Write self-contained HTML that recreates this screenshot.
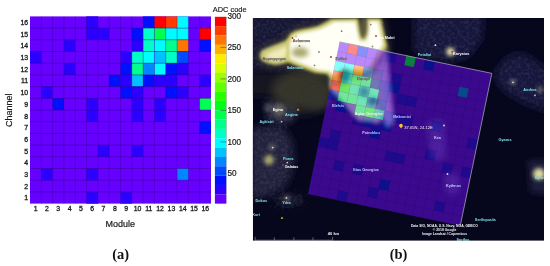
<!DOCTYPE html>
<html><head><meta charset="utf-8"><style>
html,body{margin:0;padding:0;background:#fff;}
svg{display:block;}
text{font-family:"Liberation Sans",Arial,sans-serif;}
.tk{font-size:6.9px;fill:#1a1a1a;stroke:#1a1a1a;stroke-width:0.3px;}
.lab{font-size:9px;fill:#1a1a1a;stroke:#1a1a1a;stroke-width:0.2px;}
.cb{font-size:8.2px;fill:#1a1a1a;stroke:#1a1a1a;stroke-width:0.2px;}
.adc{font-size:7.4px;fill:#1a1a1a;stroke:#1a1a1a;stroke-width:0.18px;}
.sub{font-family:"Liberation Serif",serif;font-weight:bold;font-size:14.5px;fill:#111;}
.sl{font-size:3.8px;font-weight:bold;}
.co{font-size:4.1px;}
.dk{fill:#3a3a40;stroke:#8a8a80;stroke-width:0.25px;}
.at{font-size:3.4px;fill:#f4f4f4;font-weight:bold;}
</style></head><body>
<svg width="550" height="266" viewBox="0 0 550 266">
<defs>
<filter id="b2" x="-50%" y="-50%" width="200%" height="200%"><feGaussianBlur stdDeviation="2"/></filter>
<filter id="b25" x="-50%" y="-50%" width="200%" height="200%"><feGaussianBlur stdDeviation="2.5"/></filter>
<filter id="glow" x="-10%" y="-10%" width="120%" height="120%">
 <feMorphology in="SourceAlpha" operator="erode" radius="3" result="er"/>
 <feGaussianBlur in="er" stdDeviation="1.4" result="erb"/>
 <feFlood flood-color="#fffff6"/>
 <feComposite in2="erb" operator="in" result="core"/>
 <feGaussianBlur in="SourceAlpha" stdDeviation="1.7" result="hb"/>
 <feFlood flood-color="#d2cf6a"/>
 <feComposite in2="hb" operator="in" result="halo"/>
 <feMerge><feMergeNode in="halo"/><feMergeNode in="core"/></feMerge>
</filter>
<filter id="glowL" x="-20%" y="-20%" width="140%" height="140%">
 <feMorphology in="SourceAlpha" operator="erode" radius="3.5" result="er"/>
 <feGaussianBlur in="er" stdDeviation="2" result="erb"/>
 <feFlood flood-color="#f0edbc"/>
 <feComposite in2="erb" operator="in" result="core"/>
 <feGaussianBlur in="SourceAlpha" stdDeviation="1.8" result="hb"/>
 <feFlood flood-color="#c8c470"/>
 <feComposite in2="hb" operator="in" result="halo"/>
 <feMerge><feMergeNode in="halo"/><feMergeNode in="core"/></feMerge>
</filter>
<filter id="noise" filterUnits="userSpaceOnUse" x="250" y="15" width="300" height="230">
 <feTurbulence type="fractalNoise" baseFrequency="0.33" numOctaves="2" seed="7"/>
 <feColorMatrix type="matrix" values="0 0 0 0 0.42  0 0 0 0 0.42  0 0 0 0 0.62  0 0 0 3.2 -1.35"/>
</filter>
<filter id="b3" x="-50%" y="-50%" width="200%" height="200%"><feGaussianBlur stdDeviation="3"/></filter>
<filter id="b4" x="-50%" y="-50%" width="200%" height="200%"><feGaussianBlur stdDeviation="4.5"/></filter>
<filter id="b6" x="-50%" y="-50%" width="200%" height="200%"><feGaussianBlur stdDeviation="7"/></filter>
<clipPath id="satclip"><rect x="252.8" y="17.9" width="291.2" height="222.9"/></clipPath>
</defs>
<rect x="30.0" y="16.4" width="181.0" height="187.2" fill="#6600ff"/><rect x="86.56" y="16.40" width="11.36" height="11.75" fill="#2b00ff"/><rect x="143.12" y="16.40" width="11.36" height="11.75" fill="#0010ff"/><rect x="154.44" y="16.40" width="11.36" height="11.75" fill="#ff0000"/><rect x="165.75" y="16.40" width="11.36" height="11.75" fill="#ff3b00"/><rect x="177.06" y="16.40" width="11.36" height="11.75" fill="#00fcff"/><rect x="86.56" y="28.10" width="11.36" height="11.75" fill="#2b00ff"/><rect x="97.88" y="28.10" width="11.36" height="11.75" fill="#2b00ff"/><rect x="131.81" y="28.10" width="11.36" height="11.75" fill="#0010ff"/><rect x="143.12" y="28.10" width="11.36" height="11.75" fill="#00ffc7"/><rect x="154.44" y="28.10" width="11.36" height="11.75" fill="#00ff51"/><rect x="165.75" y="28.10" width="11.36" height="11.75" fill="#00fcff"/><rect x="177.06" y="28.10" width="11.36" height="11.75" fill="#00fcff"/><rect x="199.69" y="28.10" width="11.36" height="11.75" fill="#ff0000"/><rect x="63.94" y="39.80" width="11.36" height="11.75" fill="#2b00ff"/><rect x="131.81" y="39.80" width="11.36" height="11.75" fill="#2b00ff"/><rect x="143.12" y="39.80" width="11.36" height="11.75" fill="#00ffc7"/><rect x="154.44" y="39.80" width="11.36" height="11.75" fill="#00fcff"/><rect x="165.75" y="39.80" width="11.36" height="11.75" fill="#00ff8c"/><rect x="177.06" y="39.80" width="11.36" height="11.75" fill="#ff7600"/><rect x="199.69" y="39.80" width="11.36" height="11.75" fill="#0010ff"/><rect x="30.00" y="51.50" width="11.36" height="11.75" fill="#2b00ff"/><rect x="120.50" y="51.50" width="11.36" height="11.75" fill="#2b00ff"/><rect x="131.81" y="51.50" width="11.36" height="11.75" fill="#00ffc7"/><rect x="143.12" y="51.50" width="11.36" height="11.75" fill="#00fcff"/><rect x="154.44" y="51.50" width="11.36" height="11.75" fill="#00c1ff"/><rect x="165.75" y="51.50" width="11.36" height="11.75" fill="#00ffc7"/><rect x="177.06" y="51.50" width="11.36" height="11.75" fill="#004bff"/><rect x="63.94" y="63.20" width="11.36" height="11.75" fill="#2b00ff"/><rect x="120.50" y="63.20" width="11.36" height="11.75" fill="#0010ff"/><rect x="131.81" y="63.20" width="11.36" height="11.75" fill="#00ff8c"/><rect x="143.12" y="63.20" width="11.36" height="11.75" fill="#0086ff"/><rect x="154.44" y="63.20" width="11.36" height="11.75" fill="#00fcff"/><rect x="165.75" y="63.20" width="11.36" height="11.75" fill="#0010ff"/><rect x="177.06" y="63.20" width="11.36" height="11.75" fill="#2b00ff"/><rect x="109.19" y="74.90" width="11.36" height="11.75" fill="#0010ff"/><rect x="120.50" y="74.90" width="11.36" height="11.75" fill="#2b00ff"/><rect x="131.81" y="74.90" width="11.36" height="11.75" fill="#00c1ff"/><rect x="143.12" y="74.90" width="11.36" height="11.75" fill="#0010ff"/><rect x="154.44" y="74.90" width="11.36" height="11.75" fill="#2b00ff"/><rect x="165.75" y="74.90" width="11.36" height="11.75" fill="#2b00ff"/><rect x="199.69" y="74.90" width="11.36" height="11.75" fill="#2b00ff"/><rect x="41.31" y="86.60" width="11.36" height="11.75" fill="#2b00ff"/><rect x="120.50" y="86.60" width="11.36" height="11.75" fill="#0010ff"/><rect x="131.81" y="86.60" width="11.36" height="11.75" fill="#2b00ff"/><rect x="165.75" y="86.60" width="11.36" height="11.75" fill="#0010ff"/><rect x="177.06" y="86.60" width="11.36" height="11.75" fill="#2b00ff"/><rect x="52.62" y="98.30" width="11.36" height="11.75" fill="#0010ff"/><rect x="86.56" y="98.30" width="11.36" height="11.75" fill="#2b00ff"/><rect x="131.81" y="98.30" width="11.36" height="11.75" fill="#2b00ff"/><rect x="154.44" y="98.30" width="11.36" height="11.75" fill="#2b00ff"/><rect x="199.69" y="98.30" width="11.36" height="11.75" fill="#00ff51"/><rect x="86.56" y="110.00" width="11.36" height="11.75" fill="#2b00ff"/><rect x="131.81" y="110.00" width="11.36" height="11.75" fill="#2b00ff"/><rect x="154.44" y="110.00" width="11.36" height="11.75" fill="#2b00ff"/><rect x="199.69" y="121.70" width="11.36" height="11.75" fill="#0010ff"/><rect x="97.88" y="145.10" width="11.36" height="11.75" fill="#2b00ff"/><rect x="131.81" y="145.10" width="11.36" height="11.75" fill="#2b00ff"/><rect x="41.31" y="168.50" width="11.36" height="11.75" fill="#2b00ff"/><rect x="86.56" y="168.50" width="11.36" height="11.75" fill="#2b00ff"/><rect x="177.06" y="168.50" width="11.36" height="11.75" fill="#0086ff"/><rect x="86.56" y="191.90" width="11.36" height="11.75" fill="#2b00ff"/><rect x="120.50" y="191.90" width="11.36" height="11.75" fill="#2b00ff"/><path d="M41.31 16.4V203.6 M52.62 16.4V203.6 M63.94 16.4V203.6 M75.25 16.4V203.6 M86.56 16.4V203.6 M97.88 16.4V203.6 M109.19 16.4V203.6 M120.50 16.4V203.6 M131.81 16.4V203.6 M143.12 16.4V203.6 M154.44 16.4V203.6 M165.75 16.4V203.6 M177.06 16.4V203.6 M188.38 16.4V203.6 M199.69 16.4V203.6" stroke="#30007a" stroke-opacity="0.38" stroke-width="0.8" fill="none"/><path d="M30.0 28.10H211.0 M30.0 39.80H211.0 M30.0 51.50H211.0 M30.0 63.20H211.0 M30.0 74.90H211.0 M30.0 86.60H211.0 M30.0 98.30H211.0 M30.0 110.00H211.0 M30.0 121.70H211.0 M30.0 133.40H211.0 M30.0 145.10H211.0 M30.0 156.80H211.0 M30.0 168.50H211.0 M30.0 180.20H211.0 M30.0 191.90H211.0" stroke="#30007a" stroke-opacity="0.5" stroke-width="0.8" fill="none"/><text x="28.2" y="200.45" text-anchor="end" class="tk">1</text><text x="28.2" y="188.75" text-anchor="end" class="tk">2</text><text x="28.2" y="177.05" text-anchor="end" class="tk">3</text><text x="28.2" y="165.35" text-anchor="end" class="tk">4</text><text x="28.2" y="153.65" text-anchor="end" class="tk">5</text><text x="28.2" y="141.95" text-anchor="end" class="tk">6</text><text x="28.2" y="130.25" text-anchor="end" class="tk">7</text><text x="28.2" y="118.55" text-anchor="end" class="tk">8</text><text x="28.2" y="106.85" text-anchor="end" class="tk">9</text><text x="28.2" y="95.15" text-anchor="end" class="tk">10</text><text x="28.2" y="83.45" text-anchor="end" class="tk">11</text><text x="28.2" y="71.75" text-anchor="end" class="tk">12</text><text x="28.2" y="60.05" text-anchor="end" class="tk">13</text><text x="28.2" y="48.35" text-anchor="end" class="tk">14</text><text x="28.2" y="36.65" text-anchor="end" class="tk">15</text><text x="28.2" y="24.95" text-anchor="end" class="tk">16</text><text x="35.66" y="211.2" text-anchor="middle" class="tk">1</text><text x="46.97" y="211.2" text-anchor="middle" class="tk">2</text><text x="58.28" y="211.2" text-anchor="middle" class="tk">3</text><text x="69.59" y="211.2" text-anchor="middle" class="tk">4</text><text x="80.91" y="211.2" text-anchor="middle" class="tk">5</text><text x="92.22" y="211.2" text-anchor="middle" class="tk">6</text><text x="103.53" y="211.2" text-anchor="middle" class="tk">7</text><text x="114.84" y="211.2" text-anchor="middle" class="tk">8</text><text x="126.16" y="211.2" text-anchor="middle" class="tk">9</text><text x="137.47" y="211.2" text-anchor="middle" class="tk">10</text><text x="148.78" y="211.2" text-anchor="middle" class="tk">11</text><text x="160.09" y="211.2" text-anchor="middle" class="tk">12</text><text x="171.41" y="211.2" text-anchor="middle" class="tk">13</text><text x="182.72" y="211.2" text-anchor="middle" class="tk">14</text><text x="194.03" y="211.2" text-anchor="middle" class="tk">15</text><text x="205.34" y="211.2" text-anchor="middle" class="tk">16</text><text x="120.3" y="227.3" text-anchor="middle" class="lab">Module</text><text transform="translate(11.6 110.3) rotate(-90)" text-anchor="middle" class="lab">Channel</text><rect x="214.9" y="16.80" width="11.40" height="9.39" fill="#ff0000"/><rect x="214.9" y="26.14" width="11.40" height="9.39" fill="#ff3b00"/><rect x="214.9" y="35.48" width="11.40" height="9.39" fill="#ff7600"/><rect x="214.9" y="44.82" width="11.40" height="9.39" fill="#ffb100"/><rect x="214.9" y="54.16" width="11.40" height="9.39" fill="#ffec00"/><rect x="214.9" y="63.50" width="11.40" height="9.39" fill="#d7ff00"/><rect x="214.9" y="72.84" width="11.40" height="9.39" fill="#9cff00"/><rect x="214.9" y="82.18" width="11.40" height="9.39" fill="#61ff00"/><rect x="214.9" y="91.52" width="11.40" height="9.39" fill="#26ff00"/><rect x="214.9" y="100.86" width="11.40" height="9.39" fill="#00ff15"/><rect x="214.9" y="110.20" width="11.40" height="9.39" fill="#00ff51"/><rect x="214.9" y="119.54" width="11.40" height="9.39" fill="#00ff8c"/><rect x="214.9" y="128.88" width="11.40" height="9.39" fill="#00ffc7"/><rect x="214.9" y="138.22" width="11.40" height="9.39" fill="#00fcff"/><rect x="214.9" y="147.56" width="11.40" height="9.39" fill="#00c1ff"/><rect x="214.9" y="156.90" width="11.40" height="9.39" fill="#0086ff"/><rect x="214.9" y="166.24" width="11.40" height="9.39" fill="#004bff"/><rect x="214.9" y="175.58" width="11.40" height="9.39" fill="#0010ff"/><rect x="214.9" y="184.92" width="11.40" height="9.39" fill="#2b00ff"/><rect x="214.9" y="194.26" width="11.40" height="9.39" fill="#6600ff"/><line x1="226.5" y1="16.8" x2="226.5" y2="203.6" stroke="#999" stroke-width="0.5"/><line x1="220.4" y1="173.40" x2="226.3" y2="173.40" stroke="#333" stroke-opacity="0.7" stroke-width="0.7"/><text x="227.5" y="176.30" class="cb">50</text><line x1="220.4" y1="141.90" x2="226.3" y2="141.90" stroke="#333" stroke-opacity="0.7" stroke-width="0.7"/><text x="227.5" y="144.80" class="cb">100</text><line x1="220.4" y1="110.40" x2="226.3" y2="110.40" stroke="#333" stroke-opacity="0.7" stroke-width="0.7"/><text x="227.5" y="113.30" class="cb">150</text><line x1="220.4" y1="78.90" x2="226.3" y2="78.90" stroke="#333" stroke-opacity="0.7" stroke-width="0.7"/><text x="227.5" y="81.80" class="cb">200</text><line x1="220.4" y1="47.40" x2="226.3" y2="47.40" stroke="#333" stroke-opacity="0.7" stroke-width="0.7"/><text x="227.5" y="50.30" class="cb">250</text><text x="227.5" y="18.80" class="cb">300</text><text x="229.7" y="12" text-anchor="middle" class="adc">ADC code</text><text x="120.7" y="258.8" text-anchor="middle" class="sub">(a)</text><text x="398.6" y="258.8" text-anchor="middle" class="sub">(b)</text>
<g clip-path="url(#satclip)"><rect x="252.8" y="17.9" width="291.2" height="222.9" fill="#06061c"/><polygon points="250,15 345,15 345,45 336,80 300,80 280,72 250,72" fill="#181836" filter="url(#b4)"/><polygon points="250,72 336,72 336,100 322,112 300,118 288,100 268,96 250,96" fill="#141424" filter="url(#b4)"/><polygon points="266,100 294,100 298,114 288,124 268,122" fill="#2a2a42" filter="url(#b3)"/><polygon points="250,128 282,126 292,140 294,160 290,178 282,190 266,196 250,200" fill="#24243e" filter="url(#b4)"/><polygon points="425,120 445,118 448,160 430,162" fill="#3a3a50" filter="url(#b4)"/><polygon points="443,172 460,172 460,196 445,196" fill="#3a3a50" filter="url(#b4)"/><polygon points="276,196 300,196 302,204 280,206" fill="#1a1a30" filter="url(#b3)"/><polygon points="414,15 484,15 482,40 470,56 452,62 425,60 414,50" fill="#16163e" filter="url(#b4)"/><polygon points="496,70 505,58 520,52 535,60 548,70 548,112 525,104 505,92 496,82" fill="#18183e" filter="url(#b4)"/><polygon points="528,160 548,160 548,195 530,192" fill="#1e1e3a" filter="url(#b3)"/><mask id="landmask"><g filter="url(#b3)"><polygon points="250,15 345,15 340,60 300,70 250,70" fill="#fff"/><polygon points="262,98 296,98 300,116 288,126 264,124" fill="#fff"/><polygon points="252,128 282,126 292,140 294,160 290,178 282,190 266,196 252,200" fill="#fff"/><polygon points="414,15 484,15 482,40 470,56 452,62 425,60 414,50" fill="#fff"/><polygon points="496,70 505,58 520,52 535,60 548,70 548,112 525,104 505,92 496,82" fill="#fff"/><polygon points="270,192 305,192 306,208 272,210" fill="#fff"/></g></mask><rect x="252.8" y="17.9" width="291.2" height="222.9" fill="#fff" filter="url(#noise)" mask="url(#landmask)" opacity="0.1"/><ellipse cx="302" cy="90" rx="30" ry="19" fill="#34342a" filter="url(#b4)"/><ellipse cx="318" cy="100" rx="12" ry="9" fill="#34342e" filter="url(#b4)"/><polygon points="370,42 387,46 389,70 392,100 395,122 387,129 380,114 376,90 372,70" fill="#b4b2a4" filter="url(#b25)"/><polygon points="332,68 350,64 376,60 380,80 382,100 383,118 378,124 370,122 358,121 350,112 342,102 335,95 331,88" fill="#d4d27a" filter="url(#b2)"/><ellipse cx="335" cy="80" rx="4.5" ry="12" fill="#fcfbe8" filter="url(#b2)"/><ellipse cx="364" cy="92" rx="5" ry="5" fill="#6a6a50" filter="url(#b2)"/><ellipse cx="373" cy="101" rx="5" ry="4" fill="#50504a" filter="url(#b2)"/><polygon points="291,37 285,41 277,44 268,47.5 261.5,50.5 259.5,55.5 261.5,60.5 268,63.5 276,65 284,63.5 290,61 293,53" fill="#3c3c30" stroke="#3c3c30" stroke-width="8" stroke-linejoin="round" opacity="0.55" filter="url(#b3)"/><polygon points="331,19 358,18.5 360,26 363,40 365,30 366,18.5 381,18.5 384,32 387,46 378,60 372,70 362,74 352,72 342,74 336,84 333,80 326.7,74 315,72.8 303.3,68.2 292,64 287,61 287,50 287,41 290,34 295,31 301,29.5 309.4,28 318,26 326,22" fill="#3c3c30" stroke="#3c3c30" stroke-width="8" stroke-linejoin="round" opacity="0.55" filter="url(#b3)"/><polygon points="291,37 285,41 277,44 268,47.5 261.5,50.5 259.5,55.5 261.5,60.5 268,63.5 276,65 284,63.5 290,61 293,53" fill="#fff" filter="url(#glowL)"/><polygon points="331,19 358,18.5 360,26 363,40 365,30 366,18.5 381,18.5 384,32 387,46 378,60 372,70 362,74 352,72 342,74 336,84 333,80 326.7,74 315,72.8 303.3,68.2 292,64 287,61 287,50 287,41 290,34 295,31 301,29.5 309.4,28 318,26 326,22" fill="#fff" filter="url(#glow)"/><ellipse cx="363.5" cy="27" rx="3.5" ry="11" fill="#5e5c40" filter="url(#b2)"/><ellipse cx="300" cy="52.5" rx="8.5" ry="5" fill="#aaa66a" filter="url(#b25)"/><ellipse cx="345" cy="76" rx="5" ry="7" fill="#2a2a30" filter="url(#b2)"/><circle cx="279" cy="110" r="6" fill="#8a8870" opacity="0.6" filter="url(#b2)"/><circle cx="269" cy="160" r="5" fill="#d8d47a" opacity="0.75" filter="url(#b2)"/><circle cx="272" cy="147" r="3" fill="#a8a890" opacity="0.5" filter="url(#b2)"/><circle cx="450.4" cy="51.8" r="4" fill="#f4f0b0" opacity="1.0" filter="url(#b2)"/><circle cx="539" cy="174" r="6" fill="#e8e4a8" opacity="0.95" filter="url(#b2)"/><circle cx="513" cy="82" r="2.5" fill="#c8c4a0" opacity="0.7" filter="url(#b2)"/><circle cx="540" cy="90" r="3" fill="#b0ac90" opacity="0.6" filter="url(#b2)"/><circle cx="287" cy="198" r="3" fill="#a0a090" opacity="0.5" filter="url(#b2)"/><circle cx="268" cy="108" r="4" fill="#8a8a80" opacity="0.4" filter="url(#b2)"/><g transform="translate(339.6 41.8) rotate(11.714)"><rect x="0" y="0" width="155.5" height="155.5" fill="#16122c" style="mix-blend-mode:lighten"/></g><g opacity="0.46"><g transform="translate(339.6 41.8) rotate(11.714)"><rect x="0" y="0" width="155.5" height="155.5" fill="#6600ff"/><rect x="9.72" y="0.00" width="9.77" height="9.77" fill="#ff0000"/><rect x="19.44" y="0.00" width="9.77" height="9.77" fill="#0010ff"/><rect x="48.59" y="0.00" width="9.77" height="9.77" fill="#2b00ff"/><rect x="68.03" y="0.00" width="9.77" height="9.77" fill="#00ff51"/><rect x="87.47" y="0.00" width="9.77" height="9.77" fill="#0010ff"/><rect x="0.00" y="19.44" width="9.77" height="9.77" fill="#00fcff"/><rect x="9.72" y="19.44" width="9.77" height="9.77" fill="#00fcff"/><rect x="19.44" y="19.44" width="9.77" height="9.77" fill="#ff7600"/><rect x="29.16" y="19.44" width="9.77" height="9.77" fill="#004bff"/><rect x="38.88" y="19.44" width="9.77" height="9.77" fill="#2b00ff"/><rect x="58.31" y="19.44" width="9.77" height="9.77" fill="#2b00ff"/><rect x="126.34" y="19.44" width="9.77" height="9.77" fill="#0086ff"/><rect x="0.00" y="29.16" width="9.77" height="9.77" fill="#ff3b00"/><rect x="9.72" y="29.16" width="9.77" height="9.77" fill="#00fcff"/><rect x="19.44" y="29.16" width="9.77" height="9.77" fill="#00ff8c"/><rect x="29.16" y="29.16" width="9.77" height="9.77" fill="#00ffc7"/><rect x="38.88" y="29.16" width="9.77" height="9.77" fill="#0010ff"/><rect x="48.59" y="29.16" width="9.77" height="9.77" fill="#2b00ff"/><rect x="58.31" y="29.16" width="9.77" height="9.77" fill="#0010ff"/><rect x="0.00" y="38.88" width="9.77" height="9.77" fill="#ff0000"/><rect x="9.72" y="38.88" width="9.77" height="9.77" fill="#00ff51"/><rect x="19.44" y="38.88" width="9.77" height="9.77" fill="#00fcff"/><rect x="29.16" y="38.88" width="9.77" height="9.77" fill="#00c1ff"/><rect x="38.88" y="38.88" width="9.77" height="9.77" fill="#00fcff"/><rect x="48.59" y="38.88" width="9.77" height="9.77" fill="#2b00ff"/><rect x="68.03" y="38.88" width="9.77" height="9.77" fill="#2b00ff"/><rect x="77.75" y="38.88" width="9.77" height="9.77" fill="#2b00ff"/><rect x="0.00" y="48.59" width="9.77" height="9.77" fill="#0010ff"/><rect x="9.72" y="48.59" width="9.77" height="9.77" fill="#00ffc7"/><rect x="19.44" y="48.59" width="9.77" height="9.77" fill="#00ffc7"/><rect x="29.16" y="48.59" width="9.77" height="9.77" fill="#00fcff"/><rect x="38.88" y="48.59" width="9.77" height="9.77" fill="#0086ff"/><rect x="48.59" y="48.59" width="9.77" height="9.77" fill="#0010ff"/><rect x="9.72" y="58.31" width="9.77" height="9.77" fill="#0010ff"/><rect x="19.44" y="58.31" width="9.77" height="9.77" fill="#2b00ff"/><rect x="29.16" y="58.31" width="9.77" height="9.77" fill="#00ffc7"/><rect x="38.88" y="58.31" width="9.77" height="9.77" fill="#00ff8c"/><rect x="48.59" y="58.31" width="9.77" height="9.77" fill="#00c1ff"/><rect x="58.31" y="58.31" width="9.77" height="9.77" fill="#2b00ff"/><rect x="68.03" y="58.31" width="9.77" height="9.77" fill="#2b00ff"/><rect x="77.75" y="58.31" width="9.77" height="9.77" fill="#2b00ff"/><rect x="106.91" y="58.31" width="9.77" height="9.77" fill="#2b00ff"/><rect x="29.16" y="68.03" width="9.77" height="9.77" fill="#2b00ff"/><rect x="38.88" y="68.03" width="9.77" height="9.77" fill="#0010ff"/><rect x="48.59" y="68.03" width="9.77" height="9.77" fill="#2b00ff"/><rect x="58.31" y="68.03" width="9.77" height="9.77" fill="#0010ff"/><rect x="145.78" y="68.03" width="9.77" height="9.77" fill="#2b00ff"/><rect x="48.59" y="77.75" width="9.77" height="9.77" fill="#0010ff"/><rect x="9.72" y="87.47" width="9.77" height="9.77" fill="#2b00ff"/><rect x="106.91" y="87.47" width="9.77" height="9.77" fill="#2b00ff"/><rect x="0.00" y="97.19" width="9.77" height="9.77" fill="#2b00ff"/><rect x="9.72" y="97.19" width="9.77" height="9.77" fill="#2b00ff"/><rect x="68.03" y="97.19" width="9.77" height="9.77" fill="#2b00ff"/><rect x="77.75" y="97.19" width="9.77" height="9.77" fill="#2b00ff"/><rect x="126.34" y="97.19" width="9.77" height="9.77" fill="#2b00ff"/><rect x="145.78" y="97.19" width="9.77" height="9.77" fill="#2b00ff"/><rect x="19.44" y="116.62" width="9.77" height="9.77" fill="#2b00ff"/><rect x="38.88" y="116.62" width="9.77" height="9.77" fill="#2b00ff"/><rect x="68.03" y="126.34" width="9.77" height="9.77" fill="#0010ff"/><rect x="58.31" y="136.06" width="9.77" height="9.77" fill="#2b00ff"/><rect x="126.34" y="136.06" width="9.77" height="9.77" fill="#2b00ff"/><rect x="29.16" y="145.78" width="9.77" height="9.77" fill="#2b00ff"/></g></g><g transform="translate(339.6 41.8) rotate(11.714)"><path d="M9.72 0V155.5 M0 9.72H155.5 M19.44 0V155.5 M0 19.44H155.5 M29.16 0V155.5 M0 29.16H155.5 M38.88 0V155.5 M0 38.88H155.5 M48.59 0V155.5 M0 48.59H155.5 M58.31 0V155.5 M0 58.31H155.5 M68.03 0V155.5 M0 68.03H155.5 M77.75 0V155.5 M0 77.75H155.5 M87.47 0V155.5 M0 87.47H155.5 M97.19 0V155.5 M0 97.19H155.5 M106.91 0V155.5 M0 106.91H155.5 M116.62 0V155.5 M0 116.62H155.5 M126.34 0V155.5 M0 126.34H155.5 M136.06 0V155.5 M0 136.06H155.5 M145.78 0V155.5 M0 145.78H155.5" stroke="#000" stroke-opacity="0.12" stroke-width="0.5" fill="none"/><path d="M0 0H155.5V155.5" fill="none" stroke="#a8a8b4" stroke-width="0.7"/></g><text x="301.5" y="41.8" text-anchor="middle" class="sl dk" fill="#f0f0f0">Acharnes</text><text x="274.4" y="59.9" text-anchor="middle" class="sl dk" fill="#f0f0f0">Aspropyrgos</text><text x="295" y="69" text-anchor="middle" class="sl" fill="#7fe0e6">Salamina</text><text x="385.7" y="38.7" text-anchor="middle" class="sl" fill="#ffffff">Nea Makri</text><text x="424.6" y="55.8" text-anchor="middle" class="sl" fill="#7fe0e6">Petalioi</text><text x="461.2" y="55.1" text-anchor="middle" class="sl" fill="#ffffff">Karystos</text><text x="530" y="90.7" text-anchor="middle" class="sl" fill="#7fe0e6">Andros</text><text x="277.8" y="110.7" text-anchor="middle" class="sl" fill="#ffffff">Egina</text><text x="291.3" y="116.2" text-anchor="middle" class="sl" fill="#7fe0e6">Aegina</text><text x="266.5" y="123.2" text-anchor="middle" class="sl" fill="#7fe0e6">Agkistri</text><text x="288.3" y="160.2" text-anchor="middle" class="sl" fill="#7fe0e6">Poros</text><text x="291.5" y="168.3" text-anchor="middle" class="sl" fill="#ffffff">Galatas</text><text x="261.3" y="202" text-anchor="middle" class="sl" fill="#7fe0e6">Dokos</text><text x="286.5" y="204" text-anchor="middle" class="sl" fill="#7fe0e6">Ydra</text><text x="505" y="140.8" text-anchor="middle" class="sl" fill="#7fe0e6">Gyaros</text><text x="540" y="179.2" text-anchor="middle" class="sl" fill="#7fe0e6">Syros</text><text x="485.3" y="220.6" text-anchor="middle" class="sl" fill="#7fe0e6">Serifopoula</text><text x="463" y="240.7" text-anchor="middle" class="sl" fill="#7fe0e6">Serifos</text><text x="341" y="60.3" text-anchor="middle" class="sl dk" fill="#f0f0f0">Pallini</text><text x="363.4" y="79.7" text-anchor="middle" class="sl dk" fill="#f0f0f0">Koropi</text><text x="368.8" y="115" text-anchor="middle" class="sl" fill="#e8f4e8">Agios Georgios</text><text x="402" y="118.4" text-anchor="middle" class="sl" fill="#c0c8ff">Makronisi</text><text x="371" y="133.9" text-anchor="middle" class="sl" fill="#c0c8ff">Patroklou</text><text x="437.4" y="139.4" text-anchor="middle" class="sl" fill="#c0c8ff">Kea</text><text x="365.8" y="171.2" text-anchor="middle" class="sl" fill="#c0c8ff">Gios Georgios</text><text x="453.5" y="187.2" text-anchor="middle" class="sl" fill="#c0c8ff">Kythnos</text><text x="338" y="106.5" text-anchor="middle" class="sl" fill="#c0c8ff">Elefsis</text><text x="256" y="216.4" text-anchor="middle" class="sl" fill="#7fe0e6">Kuri</text><text x="404.3" y="128.9" class="co" fill="#f0f0f0">37.65N, 24.12E</text><path d="M401 128.5l-1.6-2.2a1.8 1.8 0 1 1 3.2 0z" fill="#f2c23a"/><circle cx="292.5" cy="38" r="0.9" fill="#c0303a"/><circle cx="296" cy="36.5" r="0.9" fill="#d8c070"/><circle cx="299.5" cy="46" r="0.9" fill="#8a8070"/><circle cx="283" cy="165" r="0.9" fill="#c0303a"/><circle cx="452" cy="52" r="0.9" fill="#c0303a"/><circle cx="286.4" cy="198" r="0.9" fill="#d0c0b0"/><circle cx="513" cy="82.3" r="0.9" fill="#e0d0c0"/><circle cx="535" cy="95.3" r="0.9" fill="#d0c0b0"/><circle cx="272.7" cy="147.6" r="0.9" fill="#d8d0c0"/><circle cx="287.2" cy="162.6" r="0.9" fill="#d0c8b8"/><circle cx="281.6" cy="121.6" r="0.9" fill="#d0c0b0"/><circle cx="435.4" cy="45.2" r="0.9" fill="#e0e0f0"/><circle cx="370.7" cy="24.6" r="0.9" fill="#8a8070"/><circle cx="382" cy="22.7" r="0.9" fill="#8a8070"/><circle cx="341.6" cy="31.2" r="0.9" fill="#8a8070"/><circle cx="376" cy="36" r="0.9" fill="#c0303a"/><circle cx="372.5" cy="46.5" r="0.9" fill="#8a8a80"/><circle cx="319" cy="52" r="0.9" fill="#8a8070"/><circle cx="331" cy="57" r="0.9" fill="#9a2a30"/><circle cx="314.5" cy="65.3" r="0.9" fill="#8a8070"/><circle cx="444" cy="125.5" r="0.9" fill="#e0d0f0"/><circle cx="447.5" cy="174" r="0.9" fill="#e0d0f0"/><path d="M298 108.3l1.3 2.2h-2.6z" fill="#f0b030"/><path d="M282 216.5l1.3 2.2h-2.6z" fill="#f0b030"/><text x="444.4" y="226.6" text-anchor="middle" class="at">Data SIO, NOAA, U.S. Navy, NGA, GEBCO</text><text x="444.6" y="230.5" text-anchor="middle" class="at">© 2018 Google</text><text x="444.6" y="235.1" text-anchor="middle" class="at">Image Landsat / Copernicus</text><text x="333.5" y="235" text-anchor="middle" class="at" style="font-size:4px">40 km</text><path d="M255.2 240.2H332.6 M255.2 236.8V240.4 M274.3 237.2V240.4 M293.9 237.2V240.4 M313 237.2V240.4 M332.6 236.8V240.4" stroke="#b0b0b8" stroke-width="0.5"/></g>
</svg>
</body></html>
